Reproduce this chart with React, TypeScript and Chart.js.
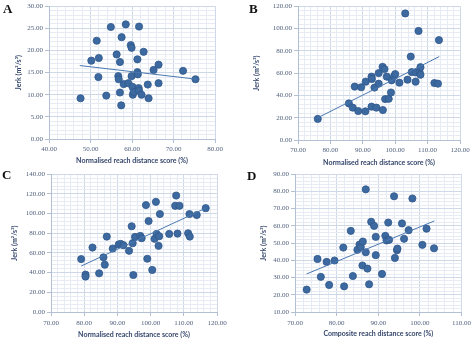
import React, { useEffect, useRef } from "react";
import { Chart, registerables } from "chart.js";
Chart.register(...registerables);

// ---------- Panel A ----------
const aX = [47.6, 50.2, 52.0, 51.5, 51.9, 53.8, 54.9, 56.3, 57.1, 57.5, 58.5, 56.7, 56.8, 58.0, 59.1, 57.1, 57.4, 59.7, 59.9, 61.7, 62.8, 61.3, 59.9, 60.1, 60.2, 60.4, 61.3, 61.4, 61.6, 61.7, 62.3, 63.8, 64.0, 65.2, 66.4, 66.4, 72.3, 75.3];
const aY = [9.2, 17.7, 18.3, 22.2, 14.0, 9.8, 25.3, 19.1, 17.4, 23.0, 25.9, 14.2, 13.5, 12.4, 12.6, 10.5, 7.6, 21.2, 20.6, 25.4, 19.7, 18.0, 14.2, 11.8, 10.0, 10.6, 15.1, 14.6, 11.5, 10.9, 10.0, 12.3, 9.2, 15.6, 16.8, 12.6, 15.4, 13.5];
const aTrendX = [47.4, 75.6];
const aTrendY = [16.6, 13.5];

// ---------- Panel B ----------
const bX = [76.1, 85.7, 86.9, 87.5, 88.6, 89.5, 90.9, 90.8, 92.7, 92.8, 92.7, 93.6, 94.2, 94.9, 94.9, 96.1, 96.7, 96.2, 96.9, 97.4, 98.0, 98.7, 98.9, 99.7, 100.0, 101.3, 103.1, 103.8, 104.8, 105.1, 106.3, 106.4, 107.2, 107.5, 107.8, 107.8, 112.1, 113.2, 113.5];
const bY = [18.9, 32.8, 29.0, 47.9, 26.0, 47.3, 52.3, 25.7, 56.8, 54.7, 29.9, 47.0, 29.0, 60.0, 50.5, 65.6, 63.6, 26.9, 36.7, 56.8, 36.9, 42.6, 53.5, 57.3, 59.1, 51.4, 113.5, 54.1, 74.8, 60.9, 52.3, 60.6, 97.8, 61.2, 58.5, 65.3, 51.1, 50.5, 89.6];
const bTrendX = [76.0, 113.6];
const bTrendY = [19.8, 74.8];

// ---------- Panel C ----------
const cX = [79.1, 80.4, 80.4, 82.5, 84.5, 85.8, 86.2, 86.8, 88.6, 90.4, 91.0, 91.8, 93.5, 94.3, 94.6, 94.8, 95.3, 96.9, 97.3, 98.6, 99.0, 99.4, 100.5, 101.2, 101.6, 101.8, 102.4, 102.6, 102.8, 105.6, 107.4, 107.7, 108.1, 108.7, 111.3, 111.7, 111.8, 113.9, 116.6];
const cY = [53.8, 38.0, 36.0, 65.5, 39.3, 55.5, 48.1, 76.6, 64.5, 68.6, 69.2, 67.9, 62.2, 87.1, 69.9, 37.6, 76.3, 77.3, 75.0, 108.6, 54.1, 92.4, 42.7, 74.3, 111.9, 79.3, 67.2, 77.0, 99.5, 79.3, 107.9, 118.3, 79.7, 107.9, 80.0, 99.5, 76.6, 98.5, 105.5];
const cTrendX = [79.1, 116.6];
const cTrendY = [46.7, 105.5];

// ---------- Panel D ----------
const dX = [72.8, 75.4, 76.2, 77.6, 78.2, 79.5, 81.6, 81.8, 83.4, 83.9, 85.0, 85.5, 85.8, 86.3, 86.2, 87.0, 87.0, 87.4, 87.8, 88.3, 89.0, 89.4, 89.4, 90.9, 91.7, 92.0, 92.4, 92.6, 93.8, 94.0, 94.5, 94.6, 95.7, 96.2, 97.3, 98.2, 100.6, 101.6, 103.4];
const dY = [23.0, 40.8, 30.4, 39.1, 25.7, 39.9, 47.4, 24.9, 57.1, 30.9, 46.1, 49.2, 47.8, 50.9, 37.0, 44.7, 81.2, 35.2, 26.1, 62.4, 60.0, 53.6, 43.0, 32.1, 54.2, 51.5, 61.9, 51.9, 77.2, 41.4, 45.9, 46.8, 61.4, 52.5, 57.5, 75.9, 49.0, 58.4, 47.0];
const dTrendX = [72.8, 103.5];
const dTrendY = [32.1, 62.9];

const Y_TITLE = "Jerk (m²/s³)";
const X_TITLE_N = "Normalised reach distance score (%)";
const X_TITLE_C = "Composite reach distance score (%)";

const TICK_COLOR = "#52617e";
const TITLE_COLOR = "#34466b";
const AXIS_COLOR = "#b3bfd2";
const MAJOR_GRID = "#cfd8e6";
const MINOR_GRID = "#e7ecf4";
const POINT_FILL = "#3b69a0";
const POINT_EDGE = "#31588a";
const TREND_COLOR = "#4a78b0";

type PanelProps = {
  left: number; top: number; w: number; h: number;
  xs: number[]; ys: number[]; tx: number[]; ty: number[];
  xMin: number; xMax: number; xMajor: number; xStep: number;
  yMin: number; yMax: number; yMajor: number; yStep: number;
  yWidth: number; xHeight: number; padTop: number; padRight: number;
  yTitlePad: number; xTitlePad: number; xTickPad: number; xTitle: string;
};

const isMajor = (v: number, major: number) => Math.abs(v / major - Math.round(v / major)) < 1e-6;

function Panel(p: PanelProps) {
  const ref = useRef<HTMLCanvasElement>(null);
  useEffect(() => {
    const canvas = ref.current!;
    const pts = p.xs.map((x, i) => ({ x, y: p.ys[i] }));
    const trend = p.tx.map((x, i) => ({ x, y: p.ty[i] }));
    const gridColor = (major: number) => (ctx: any) =>
      ctx.tick && isMajor(ctx.tick.value, major) ? MAJOR_GRID : MINOR_GRID;
    const tickColor = (major: number) => (ctx: any) =>
      ctx.tick && isMajor(ctx.tick.value, major) ? AXIS_COLOR : "rgba(0,0,0,0)";
    const chart = new Chart(canvas, {
      type: "scatter",
      data: {
        datasets: [
          {
            type: "line",
            data: trend,
            borderColor: TREND_COLOR,
            borderWidth: 1,
            pointRadius: 0,
            fill: false,
          } as any,
          {
            data: pts,
            backgroundColor: POINT_FILL,
            borderColor: POINT_EDGE,
            borderWidth: 0.8,
            pointRadius: 3.6,
          },
        ],
      },
      options: {
        animation: false,
        responsive: false,
        maintainAspectRatio: false,
        layout: { padding: { top: p.padTop, right: p.padRight, left: 0, bottom: 0 } },
        plugins: { legend: { display: false }, tooltip: { enabled: false } },
        scales: {
          x: {
            type: "linear",
            min: p.xMin,
            max: p.xMax,
            ticks: {
              stepSize: p.xStep,
              autoSkip: false,
              maxRotation: 0,
              minRotation: 0,
              padding: p.xTickPad,
              color: TICK_COLOR,
              font: { family: "'Liberation Serif', serif", size: 7 },
              callback: (v: any) => (isMajor(Number(v), p.xMajor) ? Number(v).toFixed(2) : ""),
            },
            grid: { color: gridColor(p.xMajor), tickLength: 4, tickColor: tickColor(p.xMajor), lineWidth: 1 },
            border: { color: AXIS_COLOR, width: 1 },
            title: {
              display: true,
              text: p.xTitle,
              color: TITLE_COLOR,
              font: { family: "Lato, 'Liberation Sans', sans-serif", size: 7, weight: "bold" },
              padding: { top: 0, bottom: p.xTitlePad },
            },
            afterFit: (s: any) => { s.height = p.xHeight; },
          },
          y: {
            type: "linear",
            min: p.yMin,
            max: p.yMax,
            ticks: {
              stepSize: p.yStep,
              autoSkip: false,
              padding: 2,
              color: TICK_COLOR,
              font: { family: "'Liberation Serif', serif", size: 7 },
              callback: (v: any) => (isMajor(Number(v), p.yMajor) ? Number(v).toFixed(2) : ""),
            },
            grid: { color: gridColor(p.yMajor), tickLength: 4, tickColor: tickColor(p.yMajor), lineWidth: 1 },
            border: { color: AXIS_COLOR, width: 1 },
            title: {
              display: true,
              text: Y_TITLE,
              color: TITLE_COLOR,
              font: { family: "Lato, 'Liberation Sans', sans-serif", size: 7, weight: "bold" },
              padding: { top: p.yTitlePad, bottom: 0 },
            },
            afterFit: (s: any) => { s.width = p.yWidth; },
          },
        },
      } as any,
    });
    return () => chart.destroy();
  }, []);
  return (
    <canvas
      ref={ref}
      width={p.w}
      height={p.h}
      style={{ position: "absolute", left: p.left, top: p.top, width: p.w, height: p.h }}
    />
  );
}

const labelStyle = (left: number, top: number): React.CSSProperties => ({
  position: "absolute",
  left,
  top,
  fontFamily: "'Liberation Serif', 'Times New Roman', serif",
  fontWeight: "bold",
  fontSize: 13,
  lineHeight: "13px",
  color: "#111",
});

export default function App() {
  return (
    <div style={{ position: "absolute", left: 0, top: 0, width: 474, height: 352, background: "#fff", overflow: "hidden" }}>
      <Panel left={0} top={0} w={237} h={168} xs={aX} ys={aY} tx={aTrendX} ty={aTrendY}
        xMin={40} xMax={80} xMajor={10} xStep={2} yMin={0} yMax={30} yMajor={5} yStep={1}
        yWidth={49} xHeight={29} padTop={4} padRight={22} yTitlePad={15} xTitlePad={3} xTickPad={2} xTitle={X_TITLE_N} />
      <Panel left={237} top={0} w={237} h={168} xs={bX} ys={bY} tx={bTrendX} ty={bTrendY}
        xMin={70} xMax={120} xMajor={10} xStep={2} yMin={0} yMax={120} yMajor={20} yStep={4}
        yWidth={61} xHeight={28} padTop={5} padRight={14} yTitlePad={16} xTitlePad={1} xTickPad={2} xTitle={X_TITLE_N} />
      <Panel left={0} top={168} w={237} h={184} xs={cX} ys={cY} tx={cTrendX} ty={cTrendY}
        xMin={70} xMax={120} xMajor={10} xStep={2} yMin={0} yMax={140} yMajor={20} yStep={4}
        yWidth={51} xHeight={40} padTop={5} padRight={20} yTitlePad={11} xTitlePad={13} xTickPad={3} xTitle={X_TITLE_N} />
      <Panel left={237} top={168} w={237} h={184} xs={dX} ys={dY} tx={dTrendX} ty={dTrendY}
        xMin={70} xMax={110} xMajor={10} xStep={2} yMin={10} yMax={90} yMajor={10} yStep={2}
        yWidth={58} xHeight={40} padTop={6} padRight={12} yTitlePad={23} xTitlePad={14} xTickPad={3} xTitle={X_TITLE_C} />
      <div style={labelStyle(3, 2)}>A</div>
      <div style={labelStyle(249, 2)}>B</div>
      <div style={labelStyle(2, 168)}>C</div>
      <div style={labelStyle(247, 169)}>D</div>
    </div>
  );
}
